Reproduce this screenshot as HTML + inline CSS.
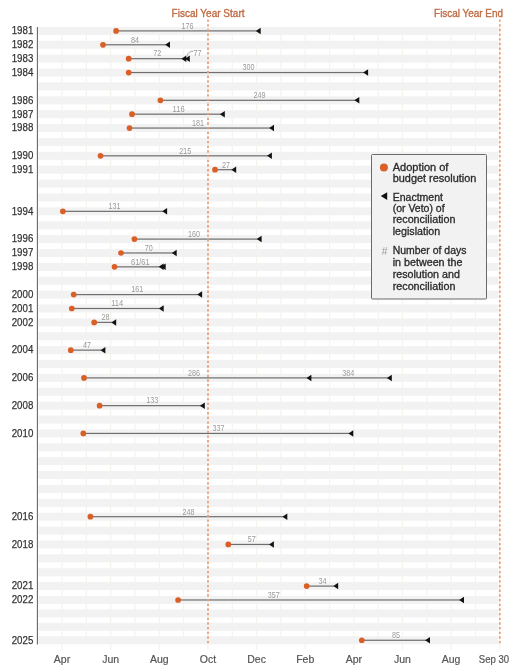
<!DOCTYPE html>
<html><head><meta charset="utf-8"><style>
html,body{margin:0;padding:0;background:#fff;}
body{width:513px;height:672px;overflow:hidden;}
svg{display:block;font-family:"Liberation Sans", sans-serif;will-change:transform;}
</style></head><body>
<svg width="513" height="672" viewBox="0 0 513 672">
<path d="M62.02 27V650 M86.34 27V644.4 M110.66 27V650 M134.98 27V644.4 M159.30 27V650 M183.62 27V644.4 M207.94 27V650 M232.26 27V644.4 M256.58 27V650 M280.90 27V644.4 M305.22 27V650 M329.54 27V644.4 M353.86 27V650 M378.18 27V644.4 M402.50 27V650 M426.82 27V644.4 M451.14 27V650 M475.46 27V644.4 M499.78 27V650" stroke="#f6f3ea" stroke-width="1.2" fill="none"/>
<rect x="38.3" y="26.90" width="460" height="8" fill="#f2f2f2"/>
<rect x="38.3" y="40.78" width="460" height="8" fill="#f2f2f2"/>
<rect x="38.3" y="54.66" width="460" height="8" fill="#f2f2f2"/>
<rect x="38.3" y="68.54" width="460" height="8" fill="#f2f2f2"/>
<rect x="38.3" y="82.42" width="460" height="8" fill="#f2f2f2"/>
<rect x="38.3" y="96.30" width="460" height="8" fill="#f2f2f2"/>
<rect x="38.3" y="110.18" width="460" height="8" fill="#f2f2f2"/>
<rect x="38.3" y="124.06" width="460" height="8" fill="#f2f2f2"/>
<rect x="38.3" y="137.94" width="460" height="8" fill="#f2f2f2"/>
<rect x="38.3" y="151.82" width="460" height="8" fill="#f2f2f2"/>
<rect x="38.3" y="165.70" width="460" height="8" fill="#f2f2f2"/>
<rect x="38.3" y="179.58" width="460" height="8" fill="#f2f2f2"/>
<rect x="38.3" y="193.46" width="460" height="8" fill="#f2f2f2"/>
<rect x="38.3" y="207.34" width="460" height="8" fill="#f2f2f2"/>
<rect x="38.3" y="221.22" width="460" height="8" fill="#f2f2f2"/>
<rect x="38.3" y="235.10" width="460" height="8" fill="#f2f2f2"/>
<rect x="38.3" y="248.98" width="460" height="8" fill="#f2f2f2"/>
<rect x="38.3" y="262.86" width="460" height="8" fill="#f2f2f2"/>
<rect x="38.3" y="276.74" width="460" height="8" fill="#f2f2f2"/>
<rect x="38.3" y="290.62" width="460" height="8" fill="#f2f2f2"/>
<rect x="38.3" y="304.50" width="460" height="8" fill="#f2f2f2"/>
<rect x="38.3" y="318.38" width="460" height="8" fill="#f2f2f2"/>
<rect x="38.3" y="332.26" width="460" height="8" fill="#f2f2f2"/>
<rect x="38.3" y="346.14" width="460" height="8" fill="#f2f2f2"/>
<rect x="38.3" y="360.02" width="460" height="8" fill="#f2f2f2"/>
<rect x="38.3" y="373.90" width="460" height="8" fill="#f2f2f2"/>
<rect x="38.3" y="387.78" width="460" height="8" fill="#f2f2f2"/>
<rect x="38.3" y="401.66" width="460" height="8" fill="#f2f2f2"/>
<rect x="38.3" y="415.54" width="460" height="8" fill="#f2f2f2"/>
<rect x="38.3" y="429.42" width="460" height="8" fill="#f2f2f2"/>
<rect x="38.3" y="443.30" width="460" height="8" fill="#f2f2f2"/>
<rect x="38.3" y="457.18" width="460" height="8" fill="#f2f2f2"/>
<rect x="38.3" y="471.06" width="460" height="8" fill="#f2f2f2"/>
<rect x="38.3" y="484.94" width="460" height="8" fill="#f2f2f2"/>
<rect x="38.3" y="498.82" width="460" height="8" fill="#f2f2f2"/>
<rect x="38.3" y="512.70" width="460" height="8" fill="#f2f2f2"/>
<rect x="38.3" y="526.58" width="460" height="8" fill="#f2f2f2"/>
<rect x="38.3" y="540.46" width="460" height="8" fill="#f2f2f2"/>
<rect x="38.3" y="554.34" width="460" height="8" fill="#f2f2f2"/>
<rect x="38.3" y="568.22" width="460" height="8" fill="#f2f2f2"/>
<rect x="38.3" y="582.10" width="460" height="8" fill="#f2f2f2"/>
<rect x="38.3" y="595.98" width="460" height="8" fill="#f2f2f2"/>
<rect x="38.3" y="609.42" width="460" height="8" fill="#f2f2f2"/>
<rect x="38.3" y="622.84" width="460" height="8" fill="#f2f2f2"/>
<rect x="38.3" y="636.26" width="460" height="8" fill="#f2f2f2"/>
<rect x="36.85" y="27" width="1.15" height="617.5" fill="#6e6e6e"/>
<rect x="116.10" y="30.30" width="140.70" height="1.2" fill="#6e6e6e"/>
<rect x="103.00" y="44.18" width="63.10" height="1.2" fill="#6e6e6e"/>
<rect x="128.70" y="58.06" width="57.20" height="1.2" fill="#6e6e6e"/>
<rect x="128.70" y="71.94" width="235.50" height="1.2" fill="#6e6e6e"/>
<rect x="160.40" y="99.70" width="195.00" height="1.2" fill="#6e6e6e"/>
<rect x="132.00" y="113.58" width="88.90" height="1.2" fill="#6e6e6e"/>
<rect x="129.50" y="127.46" width="140.60" height="1.2" fill="#6e6e6e"/>
<rect x="100.50" y="155.22" width="167.50" height="1.2" fill="#6e6e6e"/>
<rect x="215.00" y="169.10" width="17.30" height="1.2" fill="#6e6e6e"/>
<rect x="62.86" y="210.74" width="100.34" height="1.2" fill="#6e6e6e"/>
<rect x="134.40" y="238.50" width="123.30" height="1.2" fill="#6e6e6e"/>
<rect x="121.00" y="252.38" width="51.80" height="1.2" fill="#6e6e6e"/>
<rect x="114.50" y="266.26" width="47.30" height="1.2" fill="#6e6e6e"/>
<rect x="73.70" y="294.02" width="124.50" height="1.2" fill="#6e6e6e"/>
<rect x="71.80" y="307.90" width="88.00" height="1.2" fill="#6e6e6e"/>
<rect x="94.20" y="321.78" width="18.10" height="1.2" fill="#6e6e6e"/>
<rect x="70.80" y="349.54" width="30.70" height="1.2" fill="#6e6e6e"/>
<rect x="84.00" y="377.30" width="303.90" height="1.2" fill="#6e6e6e"/>
<rect x="99.60" y="405.06" width="101.30" height="1.2" fill="#6e6e6e"/>
<rect x="83.33" y="432.82" width="266.07" height="1.2" fill="#6e6e6e"/>
<rect x="90.40" y="516.10" width="193.00" height="1.2" fill="#6e6e6e"/>
<rect x="228.30" y="543.86" width="41.70" height="1.2" fill="#6e6e6e"/>
<rect x="306.65" y="585.50" width="27.65" height="1.2" fill="#6e6e6e"/>
<rect x="178.10" y="599.38" width="282.00" height="1.2" fill="#6e6e6e"/>
<rect x="361.80" y="639.66" width="64.30" height="1.2" fill="#6e6e6e"/>
<line x1="208.0" y1="19.5" x2="208.0" y2="643.8" stroke="#eca07b" stroke-width="1.8" stroke-dasharray="2.35 2.323"/>
<line x1="499.8" y1="19.5" x2="499.8" y2="643.8" stroke="#eca07b" stroke-width="1.8" stroke-dasharray="2.35 2.323"/>
<path d="M260.70 27.65L260.70 34.15L255.80 30.90Z" fill="#111"/>
<circle cx="116.10" cy="30.90" r="2.85" fill="#d95f27"/>
<text x="187.50" y="28.70" font-size="8.5" fill="#9a9a9a" text-anchor="middle" textLength="12.00" lengthAdjust="spacingAndGlyphs">176</text>
<path d="M170.00 41.53L170.00 48.03L165.10 44.78Z" fill="#111"/>
<circle cx="103.00" cy="44.78" r="2.85" fill="#d95f27"/>
<text x="135.00" y="42.58" font-size="8.5" fill="#9a9a9a" text-anchor="middle" textLength="8.00" lengthAdjust="spacingAndGlyphs">84</text>
<path d="M186.30 55.41L186.30 61.91L181.40 58.66Z" fill="#111"/>
<path d="M189.80 55.41L189.80 61.91L184.90 58.66Z" fill="#111"/>
<circle cx="128.70" cy="58.66" r="2.85" fill="#d95f27"/>
<text x="157.30" y="56.46" font-size="8.5" fill="#9a9a9a" text-anchor="middle" textLength="8.00" lengthAdjust="spacingAndGlyphs">72</text>
<path d="M368.10 69.29L368.10 75.79L363.20 72.54Z" fill="#111"/>
<circle cx="128.70" cy="72.54" r="2.85" fill="#d95f27"/>
<text x="248.40" y="70.34" font-size="8.5" fill="#9a9a9a" text-anchor="middle" textLength="12.00" lengthAdjust="spacingAndGlyphs">300</text>
<path d="M359.30 97.05L359.30 103.55L354.40 100.30Z" fill="#111"/>
<circle cx="160.40" cy="100.30" r="2.85" fill="#d95f27"/>
<text x="259.60" y="98.10" font-size="8.5" fill="#9a9a9a" text-anchor="middle" textLength="12.00" lengthAdjust="spacingAndGlyphs">249</text>
<path d="M224.80 110.93L224.80 117.43L219.90 114.18Z" fill="#111"/>
<circle cx="132.00" cy="114.18" r="2.85" fill="#d95f27"/>
<text x="178.60" y="111.98" font-size="8.5" fill="#9a9a9a" text-anchor="middle" textLength="12.00" lengthAdjust="spacingAndGlyphs">116</text>
<path d="M274.00 124.81L274.00 131.31L269.10 128.06Z" fill="#111"/>
<circle cx="129.50" cy="128.06" r="2.85" fill="#d95f27"/>
<text x="198.00" y="125.86" font-size="8.5" fill="#9a9a9a" text-anchor="middle" textLength="12.00" lengthAdjust="spacingAndGlyphs">181</text>
<path d="M271.90 152.57L271.90 159.07L267.00 155.82Z" fill="#111"/>
<circle cx="100.50" cy="155.82" r="2.85" fill="#d95f27"/>
<text x="185.30" y="153.62" font-size="8.5" fill="#9a9a9a" text-anchor="middle" textLength="12.00" lengthAdjust="spacingAndGlyphs">215</text>
<path d="M236.20 166.45L236.20 172.95L231.30 169.70Z" fill="#111"/>
<circle cx="215.00" cy="169.70" r="2.85" fill="#d95f27"/>
<text x="226.00" y="167.50" font-size="8.5" fill="#9a9a9a" text-anchor="middle" textLength="8.00" lengthAdjust="spacingAndGlyphs">27</text>
<path d="M167.10 208.09L167.10 214.59L162.20 211.34Z" fill="#111"/>
<circle cx="62.86" cy="211.34" r="2.85" fill="#d95f27"/>
<text x="114.60" y="209.14" font-size="8.5" fill="#9a9a9a" text-anchor="middle" textLength="12.00" lengthAdjust="spacingAndGlyphs">131</text>
<path d="M261.60 235.85L261.60 242.35L256.70 239.10Z" fill="#111"/>
<circle cx="134.40" cy="239.10" r="2.85" fill="#d95f27"/>
<text x="194.00" y="236.90" font-size="8.5" fill="#9a9a9a" text-anchor="middle" textLength="12.00" lengthAdjust="spacingAndGlyphs">160</text>
<path d="M176.70 249.73L176.70 256.23L171.80 252.98Z" fill="#111"/>
<circle cx="121.00" cy="252.98" r="2.85" fill="#d95f27"/>
<text x="148.80" y="250.78" font-size="8.5" fill="#9a9a9a" text-anchor="middle" textLength="8.00" lengthAdjust="spacingAndGlyphs">70</text>
<path d="M163.60 263.61L163.60 270.11L158.70 266.86Z" fill="#111"/>
<path d="M165.70 263.61L165.70 270.11L160.80 266.86Z" fill="#111"/>
<circle cx="114.50" cy="266.86" r="2.85" fill="#d95f27"/>
<text x="140.30" y="264.66" font-size="8.5" fill="#9a9a9a" text-anchor="middle" textLength="18.60" lengthAdjust="spacingAndGlyphs">61/61</text>
<path d="M202.10 291.37L202.10 297.87L197.20 294.62Z" fill="#111"/>
<circle cx="73.70" cy="294.62" r="2.85" fill="#d95f27"/>
<text x="137.30" y="292.42" font-size="8.5" fill="#9a9a9a" text-anchor="middle" textLength="12.00" lengthAdjust="spacingAndGlyphs">161</text>
<path d="M163.70 305.25L163.70 311.75L158.80 308.50Z" fill="#111"/>
<circle cx="71.80" cy="308.50" r="2.85" fill="#d95f27"/>
<text x="117.20" y="306.30" font-size="8.5" fill="#9a9a9a" text-anchor="middle" textLength="12.00" lengthAdjust="spacingAndGlyphs">114</text>
<path d="M116.20 319.13L116.20 325.63L111.30 322.38Z" fill="#111"/>
<circle cx="94.20" cy="322.38" r="2.85" fill="#d95f27"/>
<text x="105.40" y="320.18" font-size="8.5" fill="#9a9a9a" text-anchor="middle" textLength="8.00" lengthAdjust="spacingAndGlyphs">28</text>
<path d="M105.40 346.89L105.40 353.39L100.50 350.14Z" fill="#111"/>
<circle cx="70.80" cy="350.14" r="2.85" fill="#d95f27"/>
<text x="87.10" y="347.94" font-size="8.5" fill="#9a9a9a" text-anchor="middle" textLength="8.00" lengthAdjust="spacingAndGlyphs">47</text>
<path d="M311.40 374.65L311.40 381.15L306.50 377.90Z" fill="#111"/>
<path d="M391.80 374.65L391.80 381.15L386.90 377.90Z" fill="#111"/>
<circle cx="84.00" cy="377.90" r="2.85" fill="#d95f27"/>
<text x="194.00" y="375.70" font-size="8.5" fill="#9a9a9a" text-anchor="middle" textLength="12.00" lengthAdjust="spacingAndGlyphs">286</text>
<text x="348.30" y="375.70" font-size="8.5" fill="#9a9a9a" text-anchor="middle" textLength="12.00" lengthAdjust="spacingAndGlyphs">384</text>
<path d="M204.80 402.41L204.80 408.91L199.90 405.66Z" fill="#111"/>
<circle cx="99.60" cy="405.66" r="2.85" fill="#d95f27"/>
<text x="152.30" y="403.46" font-size="8.5" fill="#9a9a9a" text-anchor="middle" textLength="12.00" lengthAdjust="spacingAndGlyphs">133</text>
<path d="M353.30 430.17L353.30 436.67L348.40 433.42Z" fill="#111"/>
<circle cx="83.33" cy="433.42" r="2.85" fill="#d95f27"/>
<text x="218.40" y="431.22" font-size="8.5" fill="#9a9a9a" text-anchor="middle" textLength="12.00" lengthAdjust="spacingAndGlyphs">337</text>
<path d="M287.30 513.45L287.30 519.95L282.40 516.70Z" fill="#111"/>
<circle cx="90.40" cy="516.70" r="2.85" fill="#d95f27"/>
<text x="188.50" y="514.50" font-size="8.5" fill="#9a9a9a" text-anchor="middle" textLength="12.00" lengthAdjust="spacingAndGlyphs">248</text>
<path d="M273.90 541.21L273.90 547.71L269.00 544.46Z" fill="#111"/>
<circle cx="228.30" cy="544.46" r="2.85" fill="#d95f27"/>
<text x="251.80" y="542.26" font-size="8.5" fill="#9a9a9a" text-anchor="middle" textLength="8.00" lengthAdjust="spacingAndGlyphs">57</text>
<path d="M338.20 582.85L338.20 589.35L333.30 586.10Z" fill="#111"/>
<circle cx="306.65" cy="586.10" r="2.85" fill="#d95f27"/>
<text x="322.60" y="583.90" font-size="8.5" fill="#9a9a9a" text-anchor="middle" textLength="8.00" lengthAdjust="spacingAndGlyphs">34</text>
<path d="M464.00 596.73L464.00 603.23L459.10 599.98Z" fill="#111"/>
<circle cx="178.10" cy="599.98" r="2.85" fill="#d95f27"/>
<text x="273.80" y="597.78" font-size="8.5" fill="#9a9a9a" text-anchor="middle" textLength="12.00" lengthAdjust="spacingAndGlyphs">357</text>
<path d="M430.00 637.01L430.00 643.51L425.10 640.26Z" fill="#111"/>
<circle cx="361.80" cy="640.26" r="2.85" fill="#d95f27"/>
<text x="396.00" y="638.06" font-size="8.5" fill="#9a9a9a" text-anchor="middle" textLength="8.00" lengthAdjust="spacingAndGlyphs">85</text>
<text x="197.60" y="55.96" font-size="8.5" fill="#9a9a9a" text-anchor="middle" textLength="8.00" lengthAdjust="spacingAndGlyphs">77</text>
<path d="M193.4 51.2 Q188.6 51.0 187.0 55.9" stroke="#9a9a9a" stroke-width="0.9" fill="none"/>
<text x="33.30" y="34.25" font-size="11" fill="#333" text-anchor="end" textLength="21.60" lengthAdjust="spacingAndGlyphs" stroke="#333" stroke-width="0.25">1981</text>
<text x="33.30" y="48.13" font-size="11" fill="#333" text-anchor="end" textLength="21.60" lengthAdjust="spacingAndGlyphs" stroke="#333" stroke-width="0.25">1982</text>
<text x="33.30" y="62.01" font-size="11" fill="#333" text-anchor="end" textLength="21.60" lengthAdjust="spacingAndGlyphs" stroke="#333" stroke-width="0.25">1983</text>
<text x="33.30" y="75.89" font-size="11" fill="#333" text-anchor="end" textLength="21.60" lengthAdjust="spacingAndGlyphs" stroke="#333" stroke-width="0.25">1984</text>
<text x="33.30" y="103.65" font-size="11" fill="#333" text-anchor="end" textLength="21.60" lengthAdjust="spacingAndGlyphs" stroke="#333" stroke-width="0.25">1986</text>
<text x="33.30" y="117.53" font-size="11" fill="#333" text-anchor="end" textLength="21.60" lengthAdjust="spacingAndGlyphs" stroke="#333" stroke-width="0.25">1987</text>
<text x="33.30" y="131.41" font-size="11" fill="#333" text-anchor="end" textLength="21.60" lengthAdjust="spacingAndGlyphs" stroke="#333" stroke-width="0.25">1988</text>
<text x="33.30" y="159.17" font-size="11" fill="#333" text-anchor="end" textLength="21.60" lengthAdjust="spacingAndGlyphs" stroke="#333" stroke-width="0.25">1990</text>
<text x="33.30" y="173.05" font-size="11" fill="#333" text-anchor="end" textLength="21.60" lengthAdjust="spacingAndGlyphs" stroke="#333" stroke-width="0.25">1991</text>
<text x="33.30" y="214.69" font-size="11" fill="#333" text-anchor="end" textLength="21.60" lengthAdjust="spacingAndGlyphs" stroke="#333" stroke-width="0.25">1994</text>
<text x="33.30" y="242.45" font-size="11" fill="#333" text-anchor="end" textLength="21.60" lengthAdjust="spacingAndGlyphs" stroke="#333" stroke-width="0.25">1996</text>
<text x="33.30" y="256.33" font-size="11" fill="#333" text-anchor="end" textLength="21.60" lengthAdjust="spacingAndGlyphs" stroke="#333" stroke-width="0.25">1997</text>
<text x="33.30" y="270.21" font-size="11" fill="#333" text-anchor="end" textLength="21.60" lengthAdjust="spacingAndGlyphs" stroke="#333" stroke-width="0.25">1998</text>
<text x="33.30" y="297.97" font-size="11" fill="#333" text-anchor="end" textLength="21.60" lengthAdjust="spacingAndGlyphs" stroke="#333" stroke-width="0.25">2000</text>
<text x="33.30" y="311.85" font-size="11" fill="#333" text-anchor="end" textLength="21.60" lengthAdjust="spacingAndGlyphs" stroke="#333" stroke-width="0.25">2001</text>
<text x="33.30" y="325.73" font-size="11" fill="#333" text-anchor="end" textLength="21.60" lengthAdjust="spacingAndGlyphs" stroke="#333" stroke-width="0.25">2002</text>
<text x="33.30" y="353.49" font-size="11" fill="#333" text-anchor="end" textLength="21.60" lengthAdjust="spacingAndGlyphs" stroke="#333" stroke-width="0.25">2004</text>
<text x="33.30" y="381.25" font-size="11" fill="#333" text-anchor="end" textLength="21.60" lengthAdjust="spacingAndGlyphs" stroke="#333" stroke-width="0.25">2006</text>
<text x="33.30" y="409.01" font-size="11" fill="#333" text-anchor="end" textLength="21.60" lengthAdjust="spacingAndGlyphs" stroke="#333" stroke-width="0.25">2008</text>
<text x="33.30" y="436.77" font-size="11" fill="#333" text-anchor="end" textLength="21.60" lengthAdjust="spacingAndGlyphs" stroke="#333" stroke-width="0.25">2010</text>
<text x="33.30" y="520.05" font-size="11" fill="#333" text-anchor="end" textLength="21.60" lengthAdjust="spacingAndGlyphs" stroke="#333" stroke-width="0.25">2016</text>
<text x="33.30" y="547.81" font-size="11" fill="#333" text-anchor="end" textLength="21.60" lengthAdjust="spacingAndGlyphs" stroke="#333" stroke-width="0.25">2018</text>
<text x="33.30" y="589.45" font-size="11" fill="#333" text-anchor="end" textLength="21.60" lengthAdjust="spacingAndGlyphs" stroke="#333" stroke-width="0.25">2021</text>
<text x="33.30" y="603.33" font-size="11" fill="#333" text-anchor="end" textLength="21.60" lengthAdjust="spacingAndGlyphs" stroke="#333" stroke-width="0.25">2022</text>
<text x="33.30" y="643.61" font-size="11" fill="#333" text-anchor="end" textLength="21.60" lengthAdjust="spacingAndGlyphs" stroke="#333" stroke-width="0.25">2025</text>
<text x="171.60" y="17.40" font-size="11.0" fill="#bf6a43" text-anchor="start" textLength="72.90" lengthAdjust="spacingAndGlyphs" stroke="#bf6a43" stroke-width="0.35">Fiscal Year Start</text>
<text x="502.90" y="17.40" font-size="11.0" fill="#bf6a43" text-anchor="end" textLength="68.80" lengthAdjust="spacingAndGlyphs" stroke="#bf6a43" stroke-width="0.35">Fiscal Year End</text>
<text x="62.02" y="662.90" font-size="10.5" fill="#555" text-anchor="middle" stroke="#555" stroke-width="0.2">Apr</text>
<text x="110.66" y="662.90" font-size="10.5" fill="#555" text-anchor="middle" stroke="#555" stroke-width="0.2">Jun</text>
<text x="159.30" y="662.90" font-size="10.5" fill="#555" text-anchor="middle" stroke="#555" stroke-width="0.2">Aug</text>
<text x="207.94" y="662.90" font-size="10.5" fill="#555" text-anchor="middle" stroke="#555" stroke-width="0.2">Oct</text>
<text x="256.58" y="662.90" font-size="10.5" fill="#555" text-anchor="middle" stroke="#555" stroke-width="0.2">Dec</text>
<text x="305.22" y="662.90" font-size="10.5" fill="#555" text-anchor="middle" stroke="#555" stroke-width="0.2">Feb</text>
<text x="353.86" y="662.90" font-size="10.5" fill="#555" text-anchor="middle" stroke="#555" stroke-width="0.2">Apr</text>
<text x="402.50" y="662.90" font-size="10.5" fill="#555" text-anchor="middle" stroke="#555" stroke-width="0.2">Jun</text>
<text x="451.14" y="662.90" font-size="10.5" fill="#555" text-anchor="middle" stroke="#555" stroke-width="0.2">Aug</text>
<text x="494.00" y="662.90" font-size="10.5" fill="#555" text-anchor="middle" textLength="30.30" lengthAdjust="spacingAndGlyphs" stroke="#555" stroke-width="0.2">Sep 30</text>
<rect x="371.5" y="154.5" width="115" height="144.5" rx="1" fill="#f2f2f2" stroke="#6a6a6a" stroke-width="1"/>
<circle cx="383.9" cy="167.5" r="4.0" fill="#d95f27"/>
<path d="M387.2 192.3L387.2 199.9L380.8 196.1Z" fill="#111"/>
<text x="384.60" y="254.80" font-size="10.3" fill="#999" text-anchor="middle">#</text>
<text x="392.70" y="171.10" font-size="10.4" fill="#2a2a2a" text-anchor="start" textLength="55.70" lengthAdjust="spacingAndGlyphs" stroke="#2a2a2a" stroke-width="0.3">Adoption of</text>
<text x="392.70" y="182.40" font-size="10.4" fill="#2a2a2a" text-anchor="start" textLength="83.70" lengthAdjust="spacingAndGlyphs" stroke="#2a2a2a" stroke-width="0.3">budget resolution</text>
<text x="392.70" y="200.60" font-size="10.4" fill="#2a2a2a" text-anchor="start" textLength="50.30" lengthAdjust="spacingAndGlyphs" stroke="#2a2a2a" stroke-width="0.3">Enactment</text>
<text x="392.70" y="211.80" font-size="10.4" fill="#2a2a2a" text-anchor="start" textLength="51.90" lengthAdjust="spacingAndGlyphs" stroke="#2a2a2a" stroke-width="0.3">(or Veto) of</text>
<text x="392.70" y="223.40" font-size="10.4" fill="#2a2a2a" text-anchor="start" textLength="62.80" lengthAdjust="spacingAndGlyphs" stroke="#2a2a2a" stroke-width="0.3">reconciliation</text>
<text x="392.70" y="235.00" font-size="10.4" fill="#2a2a2a" text-anchor="start" textLength="47.50" lengthAdjust="spacingAndGlyphs" stroke="#2a2a2a" stroke-width="0.3">legislation</text>
<text x="392.70" y="254.35" font-size="10.4" fill="#2a2a2a" text-anchor="start" textLength="73.70" lengthAdjust="spacingAndGlyphs" stroke="#2a2a2a" stroke-width="0.3">Number of days</text>
<text x="392.70" y="265.90" font-size="10.4" fill="#2a2a2a" text-anchor="start" textLength="69.80" lengthAdjust="spacingAndGlyphs" stroke="#2a2a2a" stroke-width="0.3">in between the</text>
<text x="392.70" y="277.90" font-size="10.4" fill="#2a2a2a" text-anchor="start" textLength="67.20" lengthAdjust="spacingAndGlyphs" stroke="#2a2a2a" stroke-width="0.3">resolution and</text>
<text x="392.70" y="289.50" font-size="10.4" fill="#2a2a2a" text-anchor="start" textLength="62.80" lengthAdjust="spacingAndGlyphs" stroke="#2a2a2a" stroke-width="0.3">reconciliation</text>
</svg>
</body></html>
